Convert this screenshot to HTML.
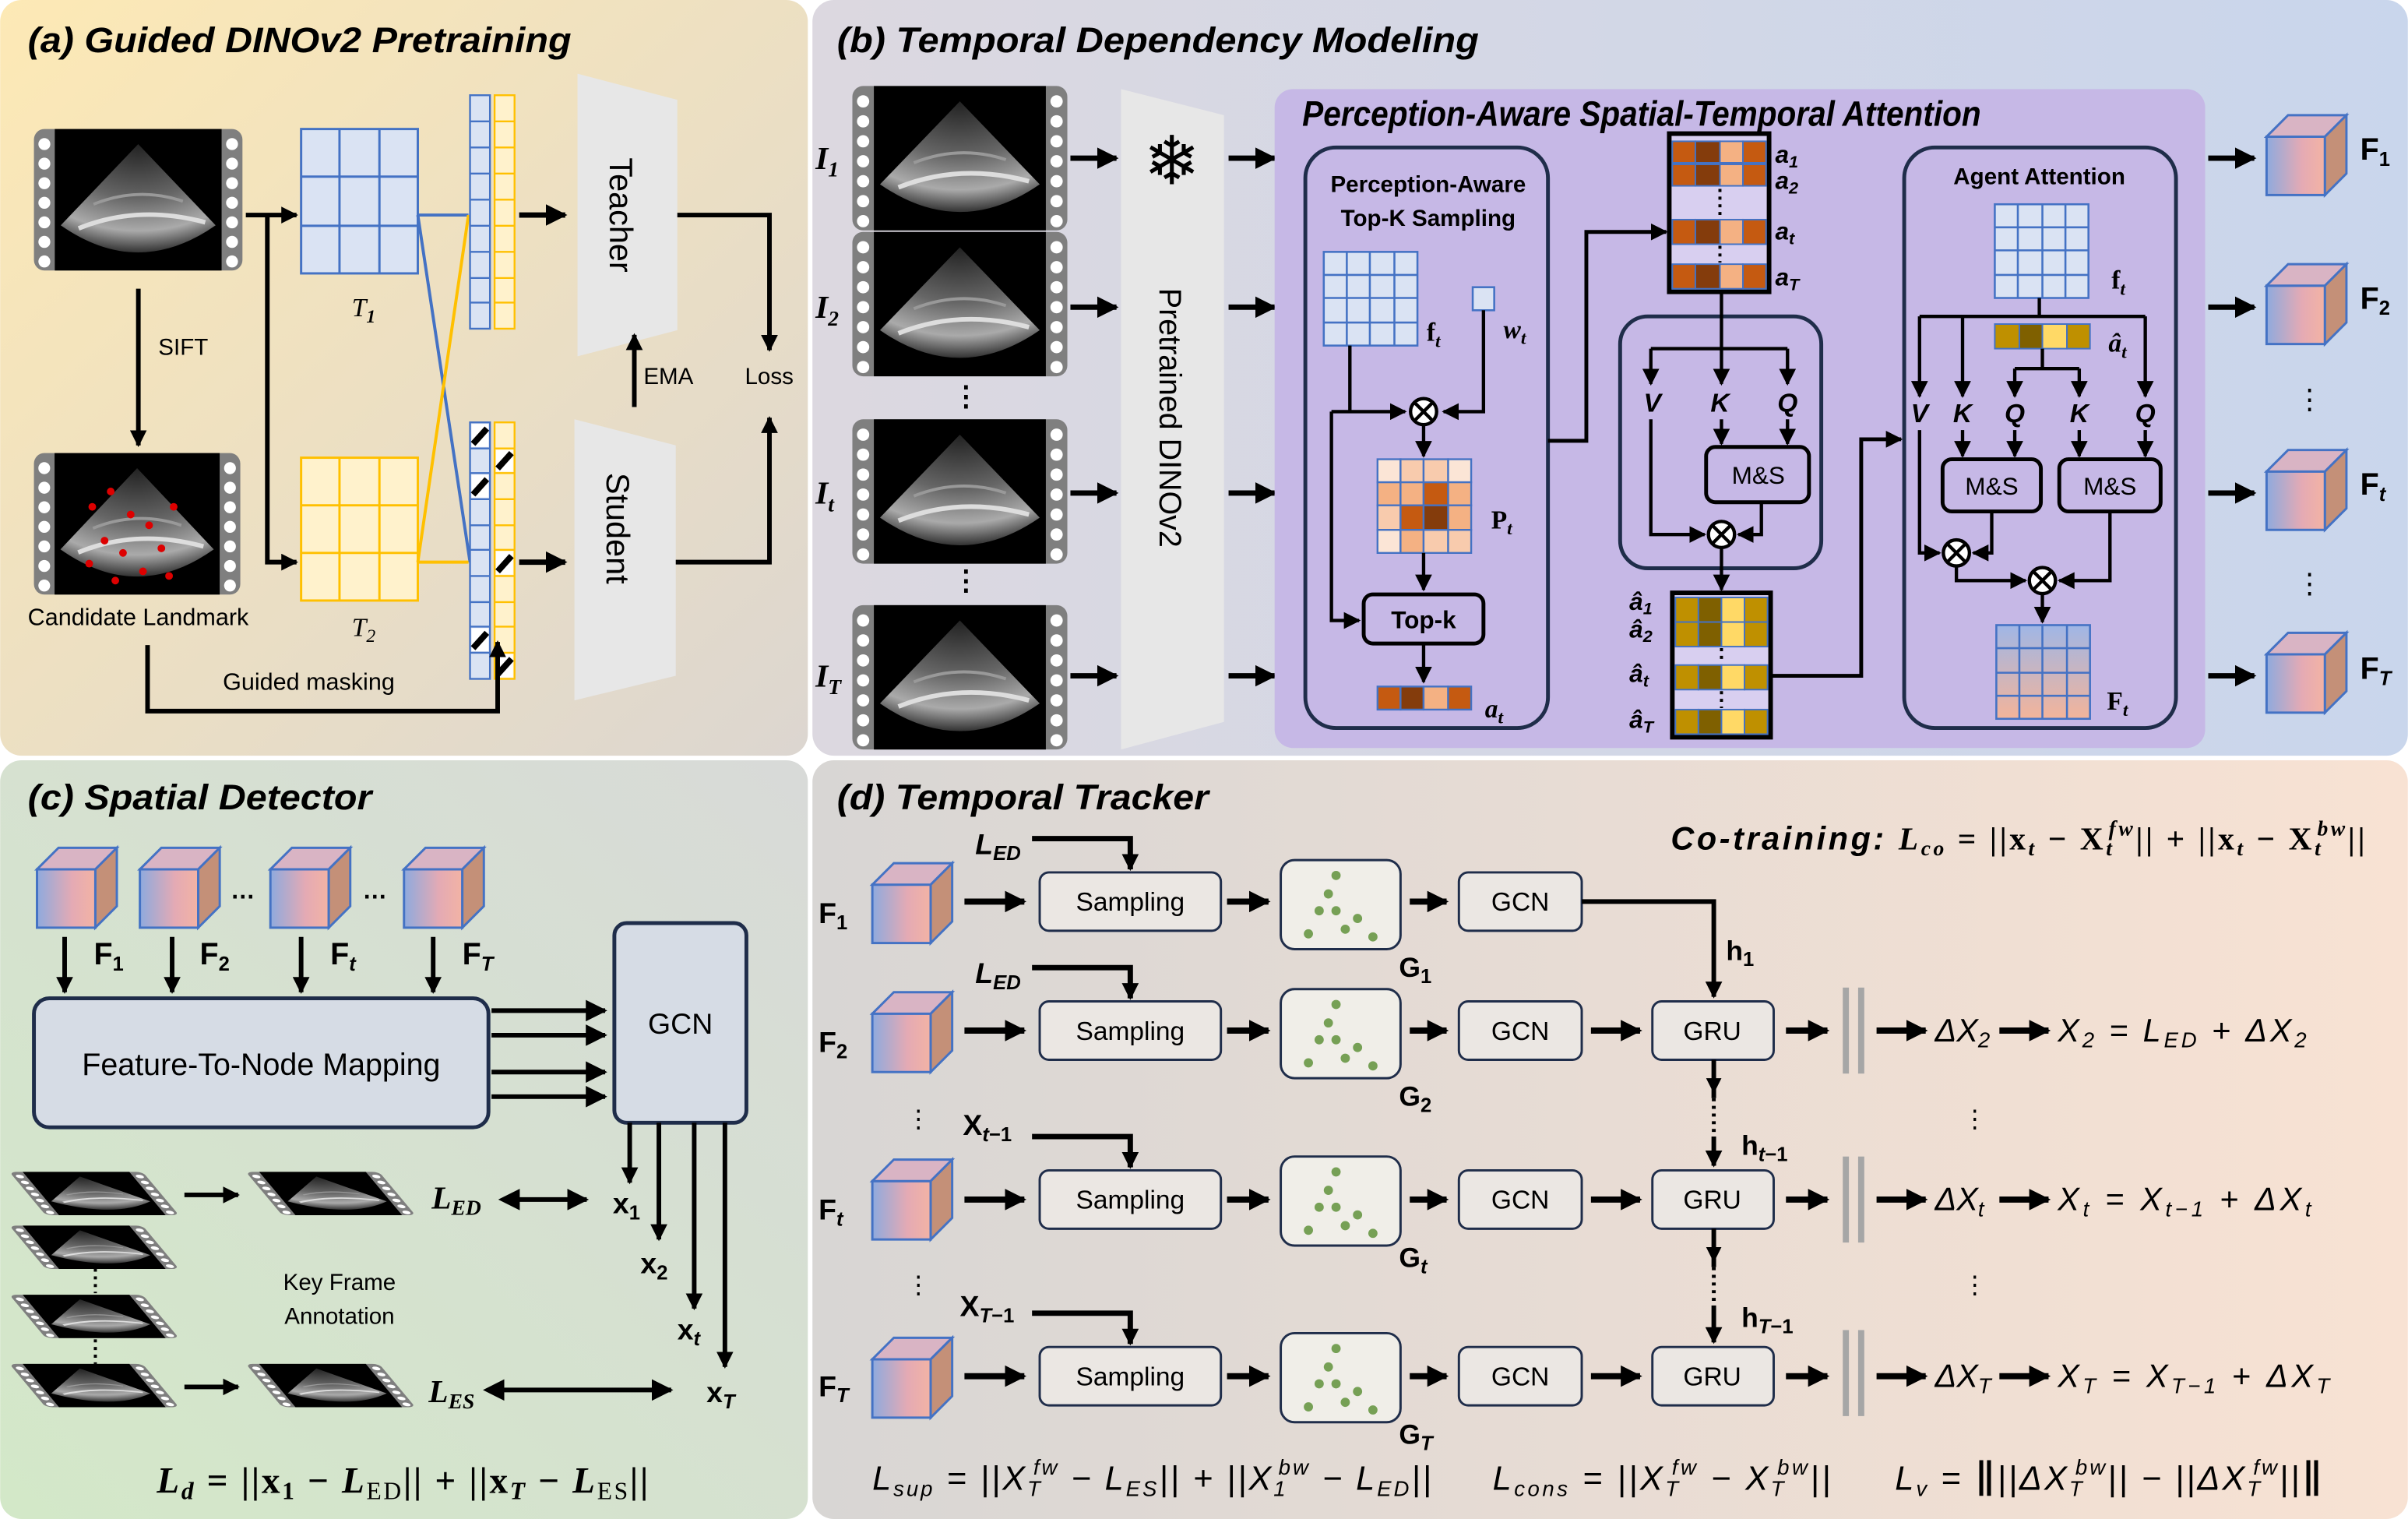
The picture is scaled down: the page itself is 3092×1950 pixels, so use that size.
<!DOCTYPE html>
<html><head><meta charset="utf-8"><style>
html,body{margin:0;padding:0;background:#fff}
svg{display:block}
text{font-family:"Liberation Sans",sans-serif;fill:#000}
.t{font-weight:bold;font-style:italic;font-size:23px}
.m{font-family:"Liberation Serif",serif;font-style:italic}
.b{font-family:"Liberation Serif",serif;font-weight:bold}
</style></head><body>
<svg width="3092" height="1950" viewBox="0 0 1568 989" xmlns="http://www.w3.org/2000/svg">
<defs>
<linearGradient id="ga" x1="0" y1="0" x2="1" y2="1"><stop offset="0" stop-color="#fde9b5"/><stop offset="1" stop-color="#dcd6d0"/></linearGradient>
<linearGradient id="gb" x1="0" y1="0" x2="1" y2="0"><stop offset="0" stop-color="#dcd8e0"/><stop offset="1" stop-color="#c9d6ec"/></linearGradient>
<linearGradient id="gc" x1="0" y1="1" x2="1" y2="0"><stop offset="0" stop-color="#d3e8c8"/><stop offset="1" stop-color="#d8dad8"/></linearGradient>
<linearGradient id="gd" x1="0" y1="0" x2="1" y2="0"><stop offset="0" stop-color="#d8d6d4"/><stop offset="1" stop-color="#f8e2d3"/></linearGradient>
<linearGradient id="cf" x1="0" y1="0" x2="1" y2="0"><stop offset="0" stop-color="#8eaade"/><stop offset="0.6" stop-color="#e4aab4"/><stop offset="1" stop-color="#f3b3a4"/></linearGradient>
<linearGradient id="fg" x1="0" y1="0" x2="0" y2="1"><stop offset="0" stop-color="#9fb6e6"/><stop offset="1" stop-color="#f3b49a"/></linearGradient>
<radialGradient id="fan" cx="0.5" cy="0" r="1"><stop offset="0" stop-color="#222"/><stop offset="0.5" stop-color="#666"/><stop offset="0.8" stop-color="#aaa"/><stop offset="1" stop-color="#333"/></radialGradient>
<marker id="ah" viewBox="0 0 10 10" refX="9" refY="5" markerWidth="11" markerHeight="11" markerUnits="userSpaceOnUse" orient="auto"><path d="M0,0L10,5L0,10z"/></marker>
<marker id="ahb" viewBox="0 0 10 10" refX="9" refY="5" markerWidth="14" markerHeight="14" markerUnits="userSpaceOnUse" orient="auto"><path d="M0,0L10,5L0,10z"/></marker>
<marker id="ahs" viewBox="0 0 10 10" refX="1" refY="5" markerWidth="14" markerHeight="14" markerUnits="userSpaceOnUse" orient="auto-start-reverse"><path d="M0,0L10,5L0,10z"/></marker>
<g id="film">
<rect x="0" y="0" width="140" height="94" rx="7" fill="#7f7f7f"/>
<rect x="14" y="0" width="112" height="94" fill="#000"/>
<path d="M70,10 L122,64 Q70,100 18,64 Z" fill="url(#fan)"/>
<path d="M30,66 Q70,50 115,62" stroke="#ddd" stroke-width="3" fill="none"/>
<path d="M40,50 Q70,38 100,48" stroke="#999" stroke-width="2" fill="none"/>
<g fill="#fff"><circle cx="7" cy="10" r="4"/><circle cx="7" cy="23" r="4"/><circle cx="7" cy="36" r="4"/><circle cx="7" cy="49" r="4"/><circle cx="7" cy="62" r="4"/><circle cx="7" cy="75" r="4"/><circle cx="7" cy="88" r="4"/>
<circle cx="133" cy="10" r="4"/><circle cx="133" cy="23" r="4"/><circle cx="133" cy="36" r="4"/><circle cx="133" cy="49" r="4"/><circle cx="133" cy="62" r="4"/><circle cx="133" cy="75" r="4"/><circle cx="133" cy="88" r="4"/></g>
</g>
<g id="cube" stroke="#4472c4" stroke-width="1.5">
<rect x="0" y="14" width="38" height="38" fill="url(#cf)"/>
<polygon points="0,14 14,0 52,0 38,14" fill="#d9b4c4"/>
<polygon points="38,14 52,0 52,38 38,52" fill="#c49078"/>
</g>
<g id="otimes"><circle r="8.5" fill="#fff" stroke="#000" stroke-width="2.2"/><path d="M-6,-6L6,6M6,-6L-6,6" stroke="#000" stroke-width="2.2"/></g>
<g id="graph"><rect x="0" y="0" width="78" height="58" rx="9" fill="#f0eee8" stroke="#1f2d4a" stroke-width="1.5"/>
<g fill="#76a055"><circle cx="36" cy="10" r="3"/><circle cx="31" cy="22" r="3"/><circle cx="25" cy="33" r="3"/><circle cx="36" cy="33" r="3"/><circle cx="50" cy="38" r="3"/><circle cx="18" cy="48" r="3"/><circle cx="42" cy="45" r="3"/><circle cx="60" cy="50" r="3"/></g></g>
</defs>

<!-- Panels -->
<rect x="0" y="0" width="1568" height="989" fill="#fff"/>
<rect x="0" y="0" width="526" height="492" rx="14" fill="url(#ga)"/>
<rect x="529" y="0" width="1039" height="492" rx="14" fill="url(#gb)"/>
<rect x="0" y="495" width="526" height="494" rx="14" fill="url(#gc)"/>
<rect x="529" y="495" width="1039" height="494" rx="14" fill="url(#gd)"/>

<!-- ===== (a) ===== -->
<text x="18" y="34" class="t" textLength="354" lengthAdjust="spacingAndGlyphs">(a) Guided DINOv2 Pretraining</text>
<use href="#film" transform="translate(22,84) scale(0.97,0.98)"/>
<use href="#film" transform="translate(22,295) scale(0.96,0.98)"/>
<g fill="#d00"><circle cx="60" cy="330" r="2.5"/><circle cx="72" cy="320" r="2.5"/><circle cx="85" cy="335" r="2.5"/><circle cx="97" cy="342" r="2.5"/><circle cx="68" cy="352" r="2.5"/><circle cx="80" cy="360" r="2.5"/><circle cx="105" cy="357" r="2.5"/><circle cx="113" cy="330" r="2.5"/><circle cx="58" cy="367" r="2.5"/><circle cx="93" cy="372" r="2.5"/><circle cx="110" cy="375" r="2.5"/><circle cx="75" cy="378" r="2.5"/></g>
<text x="18" y="407" font-size="15.5">Candidate Landmark</text>
<path d="M90,188V290" stroke="#000" stroke-width="3" marker-end="url(#ah)"/>
<text x="103" y="231" font-size="15">SIFT</text>
<path d="M160,140H193" stroke="#000" stroke-width="3" marker-end="url(#ah)"/>
<path d="M174,140V366H193" stroke="#000" stroke-width="3" fill="none" marker-end="url(#ah)"/>
<!-- T1 -->
<rect x="196" y="84" width="76" height="94" fill="#dae3f3" stroke="#4472c4" stroke-width="1.5"/>
<path d="M221,84V178M247,84V178M196,115H272M196,147H272" stroke="#4472c4" stroke-width="1.5"/>
<text x="229" y="206" class="m" font-size="17" font-style="normal">T<tspan font-size="12" dy="4" font-weight="bold">1</tspan></text>
<rect x="196" y="298" width="76" height="93" fill="#fff2cc" stroke="#ffc000" stroke-width="1.5"/>
<path d="M221,298V391M247,298V391M196,329H272M196,360H272" stroke="#ffc000" stroke-width="1.5"/>
<text x="229" y="414" class="m" font-size="17" font-style="normal">T<tspan font-size="12" dy="4">2</tspan></text>
<!-- crossing lines -->
<path d="M272,140H305M272,140L306,366" stroke="#4472c4" stroke-width="2" fill="none"/>
<path d="M272,366H305M272,366L305,140" stroke="#ffc000" stroke-width="2" fill="none"/>
<!-- token columns -->
<rect x="306" y="62" width="13" height="152" fill="#dae3f3" stroke="#4472c4" stroke-width="1.2"/>
<path d="M306,79H319M306,96H319M306,113H319M306,130H319M306,147H319M306,164H319M306,181H319M306,197H319" stroke="#4472c4" stroke-width="1.2"/>
<rect x="322" y="62" width="13" height="152" fill="#fff2cc" stroke="#ffc000" stroke-width="1.2"/>
<path d="M322,79H335M322,96H335M322,113H335M322,130H335M322,147H335M322,164H335M322,181H335M322,197H335" stroke="#ffc000" stroke-width="1.2"/>
<rect x="306" y="275" width="13" height="167" fill="#dae3f3" stroke="#4472c4" stroke-width="1.2"/>
<path d="M306,292H319M306,308H319M306,325H319M306,342H319M306,358H319M306,375H319M306,392H319M306,408H319M306,425H319" stroke="#4472c4" stroke-width="1.2"/>
<rect x="322" y="275" width="13" height="167" fill="#fff2cc" stroke="#ffc000" stroke-width="1.2"/>
<path d="M322,292H335M322,308H335M322,325H335M322,342H335M322,358H335M322,375H335M322,392H335M322,408H335M322,425H335" stroke="#ffc000" stroke-width="1.2"/>
<g>
<rect x="307" y="276" width="11" height="15" fill="#fff"/><path d="M308,289L317,279" stroke="#000" stroke-width="4"/>
<rect x="307" y="309" width="11" height="15" fill="#fff"/><path d="M308,322L317,312" stroke="#000" stroke-width="4"/>
<rect x="307" y="409" width="11" height="15" fill="#fff"/><path d="M308,422L317,412" stroke="#000" stroke-width="4"/>
<rect x="323" y="293" width="11" height="14" fill="#fff"/><path d="M324,305L333,295" stroke="#000" stroke-width="4"/>
<rect x="323" y="359" width="11" height="15" fill="#fff"/><path d="M324,372L333,362" stroke="#000" stroke-width="4"/>
<rect x="323" y="426" width="11" height="15" fill="#fff"/><path d="M324,439L333,429" stroke="#000" stroke-width="4"/>
</g>
<path d="M338,140H368" stroke="#000" stroke-width="3.5" marker-end="url(#ahb)"/>
<path d="M338,366H368" stroke="#000" stroke-width="3.5" marker-end="url(#ahb)"/>
<polygon points="376,48 441,65 441,215 376,232" fill="#e7e7e7"/>
<polygon points="374,273 440,290 440,440 374,456" fill="#e7e7e7"/>
<text transform="translate(397,140) rotate(90)" text-anchor="middle" font-size="21">Teacher</text>
<text transform="translate(395,344) rotate(90)" text-anchor="middle" font-size="21">Student</text>
<path d="M413,265V218" stroke="#000" stroke-width="3" marker-end="url(#ah)"/>
<text x="419" y="250" font-size="15">EMA</text>
<path d="M441,140H501V228" stroke="#000" stroke-width="3" fill="none" marker-end="url(#ah)"/>
<text x="485" y="250" font-size="15">Loss</text>
<path d="M440,366H501V272" stroke="#000" stroke-width="3" fill="none" marker-end="url(#ah)"/>
<path d="M96,420V463H324V418" stroke="#000" stroke-width="3" fill="none" marker-end="url(#ah)"/>
<text x="145" y="449" font-size="15.5">Guided masking</text>

<!-- ===== (b) ===== -->
<text x="545" y="34" class="t" textLength="418" lengthAdjust="spacingAndGlyphs">(b) Temporal Dependency Modeling</text>
<use href="#film" transform="translate(555,56)"/>
<use href="#film" transform="translate(555,151)"/>
<use href="#film" transform="translate(555,273)"/>
<use href="#film" transform="translate(555,394)"/>
<text x="531" y="110" class="m" font-size="21" font-weight="bold">I<tspan font-size="14" dy="5">1</tspan></text>
<text x="531" y="207" class="m" font-size="21" font-weight="bold">I<tspan font-size="14" dy="5">2</tspan></text>
<text x="531" y="328" class="m" font-size="21" font-weight="bold">I<tspan font-size="14" dy="5">t</tspan></text>
<text x="531" y="447" class="m" font-size="21" font-weight="bold">I<tspan font-size="14" dy="5">T</tspan></text>
<text x="620" y="264" font-size="18" font-weight="bold">⋮</text>
<text x="620" y="384" font-size="18" font-weight="bold">⋮</text>
<g stroke="#000" stroke-width="3.5"><path d="M697,103H727" marker-end="url(#ahb)"/><path d="M697,200H727" marker-end="url(#ahb)"/><path d="M697,321H727" marker-end="url(#ahb)"/><path d="M697,440H727" marker-end="url(#ahb)"/>
<path d="M800,103H830" marker-end="url(#ahb)"/><path d="M800,200H830" marker-end="url(#ahb)"/><path d="M800,321H830" marker-end="url(#ahb)"/><path d="M800,440H830" marker-end="url(#ahb)"/></g>
<polygon points="730,58 797,75 797,470 730,488" fill="#e7e7e7"/>
<text x="763" y="120" text-anchor="middle" font-size="44">❄</text>
<text transform="translate(755,272) rotate(90)" text-anchor="middle" font-size="20">Pretrained  DINOv2</text>
<!-- PAST -->
<rect x="830" y="58" width="606" height="429" rx="12" fill="#c6b8e6"/>
<text x="848" y="82" class="t" font-size="19" textLength="442" lengthAdjust="spacingAndGlyphs">Perception-Aware Spatial-Temporal Attention</text>
<rect x="850" y="96" width="158" height="378" rx="20" fill="none" stroke="#1f2d4a" stroke-width="2.5"/>
<text x="930" y="125" text-anchor="middle" font-size="15" font-weight="bold">Perception-Aware</text>
<text x="930" y="147" text-anchor="middle" font-size="15" font-weight="bold">Top-K Sampling</text>
<rect x="862" y="164" width="61" height="61" fill="#dae3f3" stroke="#4472c4" stroke-width="1.3"/>
<path d="M877,164V225M892,164V225M908,164V225M862,179H923M862,194H923M862,210H923" stroke="#4472c4" stroke-width="1.3"/>
<text x="929" y="222" class="b" font-size="17">f<tspan font-size="12" dy="4" font-style="italic">t</tspan></text>
<rect x="959" y="187" width="14" height="15" fill="#dae3f3" stroke="#4472c4" stroke-width="1.3"/>
<text x="979" y="220" class="m" font-size="17" font-weight="bold">w<tspan font-size="12" dy="4">t</tspan></text>
<path d="M879,225V268" stroke="#000" stroke-width="2.2" fill="none"/>
<path d="M867,268H915" stroke="#000" stroke-width="2.2" marker-end="url(#ah)"/>
<path d="M966,202V268H940" stroke="#000" stroke-width="2.2" fill="none" marker-end="url(#ah)"/>
<path d="M867,268V404H885" stroke="#000" stroke-width="2.2" fill="none" marker-end="url(#ah)"/>
<use href="#otimes" x="927" y="268"/>
<path d="M927,277V297" stroke="#000" stroke-width="2.2" marker-end="url(#ah)"/>
<g stroke="#4472c4" stroke-width="1.2">
<rect x="897" y="299" width="15" height="15" fill="#fbe5d6"/><rect x="912" y="299" width="15" height="15" fill="#f8cbad"/><rect x="927" y="299" width="16" height="15" fill="#f8cbad"/><rect x="943" y="299" width="15" height="15" fill="#fbe5d6"/>
<rect x="897" y="314" width="15" height="15" fill="#f4b183"/><rect x="912" y="314" width="15" height="15" fill="#f4b183"/><rect x="927" y="314" width="16" height="15" fill="#c55a11"/><rect x="943" y="314" width="15" height="15" fill="#f4b183"/>
<rect x="897" y="329" width="15" height="16" fill="#f8cbad"/><rect x="912" y="329" width="15" height="16" fill="#c55a11"/><rect x="927" y="329" width="16" height="16" fill="#843c0c"/><rect x="943" y="329" width="15" height="16" fill="#f4b183"/>
<rect x="897" y="345" width="15" height="15" fill="#fbe5d6"/><rect x="912" y="345" width="15" height="15" fill="#f4b183"/><rect x="927" y="345" width="16" height="15" fill="#f8cbad"/><rect x="943" y="345" width="15" height="15" fill="#f8cbad"/></g>
<text x="971" y="344" class="b" font-size="17">P<tspan font-size="12" dy="4" font-style="italic">t</tspan></text>
<path d="M927,360V384" stroke="#000" stroke-width="2.2" marker-end="url(#ah)"/>
<rect x="888" y="387" width="78" height="32" rx="6" fill="none" stroke="#000" stroke-width="2.5"/>
<text x="927" y="409" text-anchor="middle" font-size="16" font-weight="bold">Top-k</text>
<path d="M927,419V444" stroke="#000" stroke-width="2.2" marker-end="url(#ah)"/>
<g stroke="#4472c4" stroke-width="1.2"><rect x="897" y="447" width="15" height="15" fill="#c55a11"/><rect x="912" y="447" width="15" height="15" fill="#843c0c"/><rect x="927" y="447" width="16" height="15" fill="#f4b183"/><rect x="943" y="447" width="15" height="15" fill="#c55a11"/></g>
<text x="967" y="467" class="m" font-size="17" font-weight="bold">a<tspan font-size="12" dy="4">t</tspan></text>
<path d="M1008,287H1033V151H1085" stroke="#000" stroke-width="2.5" fill="none" marker-end="url(#ah)"/>
<!-- a matrix -->
<rect x="1087" y="87" width="65" height="103" fill="#d8cff0" stroke="#000" stroke-width="3"/>
<g stroke="#4472c4" stroke-width="1">
<rect x="1089" y="92" width="15" height="14" fill="#c55a11"/><rect x="1104" y="92" width="16" height="14" fill="#843c0c"/><rect x="1120" y="92" width="15" height="14" fill="#f4b183"/><rect x="1135" y="92" width="15" height="14" fill="#c55a11"/>
<rect x="1089" y="107" width="15" height="14" fill="#c55a11"/><rect x="1104" y="107" width="16" height="14" fill="#843c0c"/><rect x="1120" y="107" width="15" height="14" fill="#f4b183"/><rect x="1135" y="107" width="15" height="14" fill="#c55a11"/>
<rect x="1089" y="143" width="15" height="16" fill="#c55a11"/><rect x="1104" y="143" width="16" height="16" fill="#843c0c"/><rect x="1120" y="143" width="15" height="16" fill="#f4b183"/><rect x="1135" y="143" width="15" height="16" fill="#c55a11"/>
<rect x="1089" y="172" width="15" height="16" fill="#c55a11"/><rect x="1104" y="172" width="16" height="16" fill="#843c0c"/><rect x="1120" y="172" width="15" height="16" fill="#f4b183"/><rect x="1135" y="172" width="15" height="16" fill="#c55a11"/></g>
<path d="M1120,123V141M1120,160V171" stroke="#000" stroke-width="2" stroke-dasharray="2,3"/>
<g class="m" font-size="16" font-weight="bold"><text x="1156" y="106">a<tspan font-size="11" dy="3">1</tspan></text><text x="1156" y="123">a<tspan font-size="11" dy="3">2</tspan></text><text x="1156" y="156">a<tspan font-size="11" dy="3">t</tspan></text><text x="1156" y="186">a<tspan font-size="11" dy="3">T</tspan></text></g>
<!-- middle box -->
<rect x="1055" y="206" width="131" height="164" rx="18" fill="none" stroke="#1f2d4a" stroke-width="2.5"/>
<path d="M1121,190V250" stroke="#000" stroke-width="2.2" marker-end="url(#ah)"/>
<path d="M1075,227H1164" stroke="#000" stroke-width="2.2"/>
<path d="M1075,227V250" stroke="#000" stroke-width="2.2" marker-end="url(#ah)"/>
<path d="M1164,227V250" stroke="#000" stroke-width="2.2" marker-end="url(#ah)"/>
<g class="m" font-size="17" font-weight="bold" text-anchor="middle"><text x="1076" y="268">V</text><text x="1120" y="268">K</text><text x="1164" y="268">Q</text></g>
<path d="M1121,273V289" stroke="#000" stroke-width="2.2" marker-end="url(#ah)"/>
<path d="M1164,273V289" stroke="#000" stroke-width="2.2" marker-end="url(#ah)"/>
<rect x="1111" y="291" width="67" height="36" rx="6" fill="none" stroke="#000" stroke-width="2.5"/>
<text x="1145" y="315" text-anchor="middle" font-size="16">M&amp;S</text>
<path d="M1075,273V348H1110" stroke="#000" stroke-width="2.2" fill="none" marker-end="url(#ah)"/>
<path d="M1147,327V348H1132" stroke="#000" stroke-width="2.2" fill="none" marker-end="url(#ah)"/>
<use href="#otimes" x="1121" y="348"/>
<path d="M1121,357V384" stroke="#000" stroke-width="2.2" marker-end="url(#ah)"/>
<!-- a-hat matrix -->
<rect x="1089" y="386" width="64" height="94" fill="#d8cff0" stroke="#000" stroke-width="3"/>
<g stroke="#4472c4" stroke-width="1">
<rect x="1091" y="389" width="15" height="16" fill="#bf9000"/><rect x="1106" y="389" width="15" height="16" fill="#7f6000"/><rect x="1121" y="389" width="15" height="16" fill="#ffd966"/><rect x="1136" y="389" width="15" height="16" fill="#bf9000"/>
<rect x="1091" y="405" width="15" height="16" fill="#bf9000"/><rect x="1106" y="405" width="15" height="16" fill="#7f6000"/><rect x="1121" y="405" width="15" height="16" fill="#ffd966"/><rect x="1136" y="405" width="15" height="16" fill="#bf9000"/>
<rect x="1091" y="433" width="15" height="16" fill="#bf9000"/><rect x="1106" y="433" width="15" height="16" fill="#7f6000"/><rect x="1121" y="433" width="15" height="16" fill="#ffd966"/><rect x="1136" y="433" width="15" height="16" fill="#bf9000"/>
<rect x="1091" y="462" width="15" height="16" fill="#bf9000"/><rect x="1106" y="462" width="15" height="16" fill="#7f6000"/><rect x="1121" y="462" width="15" height="16" fill="#ffd966"/><rect x="1136" y="462" width="15" height="16" fill="#bf9000"/></g>
<path d="M1121,422V432M1121,450V461" stroke="#000" stroke-width="2" stroke-dasharray="2,3"/>
<g class="m" font-size="16" font-weight="bold"><text x="1061" y="397">â<tspan font-size="11" dy="3">1</tspan></text><text x="1061" y="415">â<tspan font-size="11" dy="3">2</tspan></text><text x="1061" y="444">â<tspan font-size="11" dy="3">t</tspan></text><text x="1061" y="474">â<tspan font-size="11" dy="3">T</tspan></text></g>
<path d="M1153,440H1212V286H1238" stroke="#000" stroke-width="2.5" fill="none" marker-end="url(#ah)"/>
<!-- Agent attention -->
<rect x="1240" y="96" width="177" height="378" rx="20" fill="none" stroke="#1f2d4a" stroke-width="2.5"/>
<text x="1328" y="120" text-anchor="middle" font-size="15" font-weight="bold">Agent Attention</text>
<rect x="1299" y="133" width="61" height="61" fill="#dae3f3" stroke="#4472c4" stroke-width="1.3"/>
<path d="M1314,133V194M1330,133V194M1345,133V194M1299,148H1360M1299,163H1360M1299,179H1360" stroke="#4472c4" stroke-width="1.3"/>
<text x="1375" y="188" class="b" font-size="17">f<tspan font-size="12" dy="4" font-style="italic">t</tspan></text>
<path d="M1328,194V206M1250,206H1397" stroke="#000" stroke-width="2.2" fill="none"/>
<path d="M1250,206V258" stroke="#000" stroke-width="2.2" marker-end="url(#ah)"/>
<path d="M1278,206V258" stroke="#000" stroke-width="2.2" marker-end="url(#ah)"/>
<path d="M1397,206V258" stroke="#000" stroke-width="2.2" marker-end="url(#ah)"/>
<g stroke="#4472c4" stroke-width="1"><rect x="1299" y="211" width="16" height="16" fill="#bf9000"/><rect x="1315" y="211" width="15" height="16" fill="#7f6000"/><rect x="1330" y="211" width="16" height="16" fill="#ffd966"/><rect x="1346" y="211" width="15" height="16" fill="#bf9000"/></g>
<text x="1373" y="229" class="m" font-size="17" font-weight="bold">â<tspan font-size="12" dy="4">t</tspan></text>
<path d="M1330,227V240M1312,240H1354" stroke="#000" stroke-width="2.2" fill="none"/>
<path d="M1312,240V258" stroke="#000" stroke-width="2.2" marker-end="url(#ah)"/>
<path d="M1354,240V258" stroke="#000" stroke-width="2.2" marker-end="url(#ah)"/>
<g class="m" font-size="17" font-weight="bold" text-anchor="middle"><text x="1250" y="275">V</text><text x="1278" y="275">K</text><text x="1312" y="275">Q</text><text x="1354" y="275">K</text><text x="1397" y="275">Q</text></g>
<path d="M1278,280V297" stroke="#000" stroke-width="2.2" marker-end="url(#ah)"/>
<path d="M1312,280V297" stroke="#000" stroke-width="2.2" marker-end="url(#ah)"/>
<path d="M1354,280V297" stroke="#000" stroke-width="2.2" marker-end="url(#ah)"/>
<path d="M1397,280V297" stroke="#000" stroke-width="2.2" marker-end="url(#ah)"/>
<rect x="1265" y="299" width="64" height="34" rx="6" fill="none" stroke="#000" stroke-width="2.5"/>
<rect x="1341" y="299" width="66" height="34" rx="6" fill="none" stroke="#000" stroke-width="2.5"/>
<text x="1297" y="322" text-anchor="middle" font-size="16">M&amp;S</text>
<text x="1374" y="322" text-anchor="middle" font-size="16">M&amp;S</text>
<path d="M1250,280V360H1263" stroke="#000" stroke-width="2.2" fill="none" marker-end="url(#ah)"/>
<path d="M1297,333V360H1285" stroke="#000" stroke-width="2.2" fill="none" marker-end="url(#ah)"/>
<use href="#otimes" x="1274" y="360"/>
<path d="M1274,369V378H1319" stroke="#000" stroke-width="2.2" fill="none" marker-end="url(#ah)"/>
<path d="M1374,333V378H1341" stroke="#000" stroke-width="2.2" fill="none" marker-end="url(#ah)"/>
<use href="#otimes" x="1330" y="378"/>
<path d="M1330,387V405" stroke="#000" stroke-width="2.2" marker-end="url(#ah)"/>
<rect x="1300" y="407" width="61" height="61" fill="url(#fg)" stroke="#4472c4" stroke-width="1.3"/>
<path d="M1315,407V468M1330,407V468M1346,407V468M1300,422H1361M1300,438H1361M1300,453H1361" stroke="#4472c4" stroke-width="1.3"/>
<text x="1372" y="462" class="b" font-size="17">F<tspan font-size="12" dy="4" font-style="italic">t</tspan></text>
<!-- outputs -->
<g stroke="#000" stroke-width="3.5"><path d="M1438,103H1468" marker-end="url(#ahb)"/><path d="M1438,200H1468" marker-end="url(#ahb)"/><path d="M1438,321H1468" marker-end="url(#ahb)"/><path d="M1438,440H1468" marker-end="url(#ahb)"/></g>
<use href="#cube" x="1476" y="75"/><use href="#cube" x="1476" y="172"/><use href="#cube" x="1476" y="293"/><use href="#cube" x="1476" y="412"/>
<g class="b" font-size="20"><text x="1537" y="104">F<tspan font-size="13" dy="4">1</tspan></text><text x="1537" y="201">F<tspan font-size="13" dy="4">2</tspan></text><text x="1537" y="322">F<tspan font-size="13" dy="4" font-style="italic">t</tspan></text><text x="1537" y="442">F<tspan font-size="13" dy="4" font-style="italic">T</tspan></text></g>
<text x="1495" y="266" font-size="18">⋮</text><text x="1495" y="386" font-size="18">⋮</text>

<!-- ===== (c) ===== -->
<text x="18" y="527" class="t" textLength="224" lengthAdjust="spacingAndGlyphs">(c) Spatial Detector</text>
<use href="#cube" x="24" y="552"/><use href="#cube" x="91" y="552"/><use href="#cube" x="176" y="552"/><use href="#cube" x="263" y="552"/>
<text x="150" y="585" font-size="16" font-weight="bold">…</text><text x="236" y="585" font-size="16" font-weight="bold">…</text>
<g stroke="#000" stroke-width="3"><path d="M42,610V646" marker-end="url(#ah)"/><path d="M112,610V646" marker-end="url(#ah)"/><path d="M196,610V646" marker-end="url(#ah)"/><path d="M282,610V646" marker-end="url(#ah)"/></g>
<g class="b" font-size="20"><text x="61" y="628">F<tspan font-size="13" dy="4">1</tspan></text><text x="130" y="628">F<tspan font-size="13" dy="4">2</tspan></text><text x="215" y="628">F<tspan font-size="13" dy="4" font-style="italic">t</tspan></text><text x="301" y="628">F<tspan font-size="13" dy="4" font-style="italic">T</tspan></text></g>
<rect x="22" y="650" width="296" height="84" rx="10" fill="#d6dce5" stroke="#1f2d4a" stroke-width="2.5"/>
<text x="170" y="700" text-anchor="middle" font-size="20">Feature-To-Node Mapping</text>
<g stroke="#000" stroke-width="3"><path d="M320,658H394" marker-end="url(#ahb)"/><path d="M320,674H394" marker-end="url(#ahb)"/><path d="M320,698H394" marker-end="url(#ahb)"/><path d="M320,714H394" marker-end="url(#ahb)"/></g>
<rect x="400" y="601" width="86" height="130" rx="8" fill="#d6dce5" stroke="#1f2d4a" stroke-width="2.5"/>
<text x="443" y="673" text-anchor="middle" font-size="19">GCN</text>
<g stroke="#000" stroke-width="3"><path d="M410,731V770" marker-end="url(#ah)"/><path d="M429,731V807" marker-end="url(#ah)"/><path d="M452,731V852" marker-end="url(#ah)"/><path d="M472,731V890" marker-end="url(#ah)"/></g>
<g class="b" font-size="19"><text x="399" y="790">x<tspan font-size="13" dy="4">1</tspan></text><text x="417" y="829">x<tspan font-size="13" dy="4">2</tspan></text><text x="441" y="872">x<tspan font-size="13" dy="4" font-style="italic">t</tspan></text><text x="460" y="913">x<tspan font-size="13" dy="4" font-style="italic">T</tspan></text></g>
<use href="#film" transform="translate(6,763) skewX(40) scale(0.62,0.3)"/>
<use href="#film" transform="translate(6,798) skewX(40) scale(0.62,0.3)"/>
<use href="#film" transform="translate(6,843) skewX(40) scale(0.62,0.3)"/>
<use href="#film" transform="translate(6,888) skewX(40) scale(0.62,0.3)"/>
<use href="#film" transform="translate(160,763) skewX(40) scale(0.62,0.3)"/>
<use href="#film" transform="translate(160,888) skewX(40) scale(0.62,0.3)"/>
<path d="M62,826V842M62,872V888" stroke="#000" stroke-width="2" stroke-dasharray="2,3"/>
<path d="M120,778H155" stroke="#000" stroke-width="3" marker-end="url(#ah)"/>
<path d="M120,903H155" stroke="#000" stroke-width="3" marker-end="url(#ah)"/>
<text x="281" y="787" class="m" font-size="21" font-weight="bold">L<tspan font-size="14" dy="4">ED</tspan></text>
<text x="279" y="913" class="m" font-size="21" font-weight="bold">L<tspan font-size="14" dy="4">ES</tspan></text>
<path d="M337,781H382" stroke="#000" stroke-width="3" marker-start="url(#ahs)" marker-end="url(#ahb)"/>
<path d="M327,905H437" stroke="#000" stroke-width="3" marker-start="url(#ahs)" marker-end="url(#ahb)"/>
<text x="221" y="840" text-anchor="middle" font-size="15">Key Frame</text>
<text x="221" y="862" text-anchor="middle" font-size="15">Annotation</text>
<text x="102" y="972" class="b" font-size="24" textLength="320" lengthAdjust="spacing"><tspan font-style="italic">L<tspan font-size="16" dy="4">d</tspan></tspan><tspan dy="-4"> = ||x</tspan><tspan font-size="16" dy="4">1</tspan><tspan dy="-4"> − </tspan><tspan font-style="italic">L</tspan><tspan font-size="16" dy="4" font-weight="normal">ED</tspan><tspan dy="-4">||  + ||x</tspan><tspan font-size="16" dy="4" font-style="italic">T</tspan><tspan dy="-4"> − </tspan><tspan font-style="italic">L</tspan><tspan font-size="16" dy="4" font-weight="normal">ES</tspan><tspan dy="-4">||</tspan></text>

<!-- ===== (d) ===== -->
<text x="545" y="527" class="t" textLength="242" lengthAdjust="spacingAndGlyphs">(d) Temporal Tracker</text>
<text x="1088" y="553" class="m" font-size="21" font-weight="bold" textLength="452" lengthAdjust="spacing"><tspan font-family="Liberation Sans">Co-training: </tspan>L<tspan font-size="14" dy="4">co</tspan><tspan dy="-4" font-style="normal"> = ||x</tspan><tspan font-size="14" dy="4">t</tspan><tspan dy="-4" font-style="normal"> − X</tspan><tspan font-size="14" dy="4">t</tspan><tspan font-size="14" dy="-13" dx="-4">fw</tspan><tspan dy="9" font-style="normal">|| + ||x</tspan><tspan font-size="14" dy="4">t</tspan><tspan dy="-4" font-style="normal"> − X</tspan><tspan font-size="14" dy="4">t</tspan><tspan font-size="14" dy="-13" dx="-4">bw</tspan><tspan dy="9" font-style="normal">||</tspan></text>
<use href="#cube" x="568" y="562"/><use href="#cube" x="568" y="646"/><use href="#cube" x="568" y="755"/><use href="#cube" x="568" y="871"/>
<g class="b" font-size="19"><text x="533" y="601">F<tspan font-size="13" dy="4">1</tspan></text><text x="533" y="685">F<tspan font-size="13" dy="4">2</tspan></text><text x="533" y="794">F<tspan font-size="13" dy="4" font-style="italic">t</tspan></text><text x="533" y="909">F<tspan font-size="13" dy="4" font-style="italic">T</tspan></text></g>
<text x="590" y="734" font-size="16">⋮</text><text x="590" y="842" font-size="16">⋮</text>
<g stroke="#000" stroke-width="4">
<path d="M628,587H667" marker-end="url(#ahb)"/><path d="M628,671H667" marker-end="url(#ahb)"/><path d="M628,781H667" marker-end="url(#ahb)"/><path d="M628,896H667" marker-end="url(#ahb)"/>
<path d="M799,587H826" marker-end="url(#ahb)"/><path d="M799,671H826" marker-end="url(#ahb)"/><path d="M799,781H826" marker-end="url(#ahb)"/><path d="M799,896H826" marker-end="url(#ahb)"/>
<path d="M918,587H942" marker-end="url(#ahb)"/><path d="M918,671H942" marker-end="url(#ahb)"/><path d="M918,781H942" marker-end="url(#ahb)"/><path d="M918,896H942" marker-end="url(#ahb)"/>
<path d="M1036,671H1068" marker-end="url(#ahb)"/><path d="M1036,781H1068" marker-end="url(#ahb)"/><path d="M1036,896H1068" marker-end="url(#ahb)"/>
<path d="M1163,671H1190" marker-end="url(#ahb)"/><path d="M1163,781H1190" marker-end="url(#ahb)"/><path d="M1163,896H1190" marker-end="url(#ahb)"/>
<path d="M1222,671H1254" marker-end="url(#ahb)"/><path d="M1222,781H1254" marker-end="url(#ahb)"/><path d="M1222,896H1254" marker-end="url(#ahb)"/>
<path d="M1302,671H1334" marker-end="url(#ahb)"/><path d="M1302,781H1334" marker-end="url(#ahb)"/><path d="M1302,896H1334" marker-end="url(#ahb)"/>
</g>
<g stroke="#000" stroke-width="3.5" fill="none">
<path d="M672,546H736V566" marker-end="url(#ah)"/><path d="M672,630H736V650" marker-end="url(#ah)"/><path d="M672,740H736V760" marker-end="url(#ah)"/><path d="M672,855H736V875" marker-end="url(#ah)"/>
</g>
<g class="m" font-size="19" font-weight="bold">
<text x="635" y="556">L<tspan font-size="13" dy="4">ED</tspan></text><text x="635" y="640">L<tspan font-size="13" dy="4">ED</tspan></text>
<text x="627" y="739" font-style="normal">X<tspan font-size="13" dy="4" font-style="italic">t</tspan><tspan font-size="13" font-style="normal">−1</tspan></text>
<text x="625" y="857" font-style="normal">X<tspan font-size="13" dy="4" font-style="italic">T</tspan><tspan font-size="13" font-style="normal">−1</tspan></text>
</g>
<g fill="#ebe7e3" stroke="#1f2d4a" stroke-width="1.5">
<rect x="677" y="568" width="118" height="38" rx="6"/><rect x="677" y="652" width="118" height="38" rx="6"/><rect x="677" y="762" width="118" height="38" rx="6"/><rect x="677" y="877" width="118" height="38" rx="6"/>
<rect x="950" y="568" width="80" height="38" rx="6"/><rect x="950" y="652" width="80" height="38" rx="6"/><rect x="950" y="762" width="80" height="38" rx="6"/><rect x="950" y="877" width="80" height="38" rx="6"/>
<rect x="1076" y="652" width="79" height="38" rx="6"/><rect x="1076" y="762" width="79" height="38" rx="6"/><rect x="1076" y="877" width="79" height="38" rx="6"/>
</g>
<g font-size="17" text-anchor="middle">
<text x="736" y="593">Sampling</text><text x="736" y="677">Sampling</text><text x="736" y="787">Sampling</text><text x="736" y="902">Sampling</text>
<text x="990" y="593">GCN</text><text x="990" y="677">GCN</text><text x="990" y="787">GCN</text><text x="990" y="902">GCN</text>
<text x="1115" y="677">GRU</text><text x="1115" y="787">GRU</text><text x="1115" y="902">GRU</text>
</g>
<use href="#graph" x="834" y="560"/><use href="#graph" x="834" y="644"/><use href="#graph" x="834" y="753"/><use href="#graph" x="834" y="868"/>
<g class="b" font-size="18"><text x="911" y="636">G<tspan font-size="13" dy="4">1</tspan></text><text x="911" y="720">G<tspan font-size="13" dy="4">2</tspan></text><text x="911" y="825">G<tspan font-size="13" dy="4" font-style="italic">t</tspan></text><text x="911" y="940">G<tspan font-size="13" dy="4" font-style="italic">T</tspan></text></g>
<path d="M1030,587H1116V649" stroke="#000" stroke-width="3" fill="none" marker-end="url(#ah)"/>
<g stroke="#000" stroke-width="3"><path d="M1116,690V715"/><path d="M1116,740V759" marker-end="url(#ah)"/><path d="M1116,800V825"/><path d="M1116,850V874" marker-end="url(#ah)"/></g>
<g stroke="#000" stroke-width="2.5" stroke-dasharray="2,3"><path d="M1116,715V740M1116,825V850"/></g>
<path d="M1116,712l-5,-10h10z M1116,822l-5,-10h10z"/>
<g class="b" font-size="18"><text x="1124" y="625">h<tspan font-size="13" dy="4">1</tspan></text><text x="1134" y="752">h<tspan font-size="13" dy="4" font-style="italic">t</tspan><tspan font-size="13">−1</tspan></text><text x="1134" y="864">h<tspan font-size="13" dy="4" font-style="italic">T</tspan><tspan font-size="13">−1</tspan></text></g>
<g fill="#a6a6a6"><rect x="1200" y="643" width="4" height="56"/><rect x="1210" y="643" width="4" height="56"/><rect x="1200" y="753" width="4" height="56"/><rect x="1210" y="753" width="4" height="56"/><rect x="1200" y="866" width="4" height="56"/><rect x="1210" y="866" width="4" height="56"/></g>
<g class="m" font-size="21" font-style="normal">
<text x="1260" y="678">ΔX<tspan font-size="14" dy="4">2</tspan></text>
<text x="1340" y="678" textLength="162" lengthAdjust="spacing">X<tspan font-size="14" dy="4">2</tspan><tspan dy="-4"> = </tspan><tspan font-style="italic">L</tspan><tspan font-size="14" dy="4" font-style="italic">ED</tspan><tspan dy="-4"> + ΔX</tspan><tspan font-size="14" dy="4">2</tspan></text>
<text x="1260" y="788">ΔX<tspan font-size="14" dy="4" font-style="italic">t</tspan></text>
<text x="1340" y="788" textLength="165" lengthAdjust="spacing">X<tspan font-size="14" dy="4" font-style="italic">t</tspan><tspan dy="-4"> = X</tspan><tspan font-size="14" dy="4"><tspan font-style="italic">t</tspan>−1</tspan><tspan dy="-4"> + ΔX</tspan><tspan font-size="14" dy="4" font-style="italic">t</tspan></text>
<text x="1260" y="903">ΔX<tspan font-size="14" dy="4" font-style="italic">T</tspan></text>
<text x="1340" y="903" textLength="177" lengthAdjust="spacing">X<tspan font-size="14" dy="4" font-style="italic">T</tspan><tspan dy="-4"> = X</tspan><tspan font-size="14" dy="4"><tspan font-style="italic">T</tspan>−1</tspan><tspan dy="-4"> + ΔX</tspan><tspan font-size="14" dy="4" font-style="italic">T</tspan></text>
</g>
<text x="1278" y="734" font-size="16">⋮</text><text x="1278" y="842" font-size="16">⋮</text>
<g class="m" font-size="22" font-style="normal">
<text x="568" y="970" textLength="364" lengthAdjust="spacing"><tspan font-style="italic">L</tspan><tspan font-size="14" dy="4" font-style="italic">sup</tspan><tspan dy="-4"> = ||X</tspan><tspan font-size="14" dy="4" font-style="italic">T</tspan><tspan font-size="14" dy="-14" dx="-6" font-style="italic">fw</tspan><tspan dy="10"> − </tspan><tspan font-style="italic">L</tspan><tspan font-size="14" dy="4">ES</tspan><tspan dy="-4">|| + ||X</tspan><tspan font-size="14" dy="4">1</tspan><tspan font-size="14" dy="-14" dx="-6" font-style="italic">bw</tspan><tspan dy="10"> − </tspan><tspan font-style="italic">L</tspan><tspan font-size="14" dy="4">ED</tspan><tspan dy="-4">||</tspan></text>
<text x="972" y="970" textLength="220" lengthAdjust="spacing"><tspan font-style="italic">L</tspan><tspan font-size="14" dy="4" font-style="italic">cons</tspan><tspan dy="-4"> = ||X</tspan><tspan font-size="14" dy="4" font-style="italic">T</tspan><tspan font-size="14" dy="-14" dx="-6" font-style="italic">fw</tspan><tspan dy="10">  − X</tspan><tspan font-size="14" dy="4" font-style="italic">T</tspan><tspan font-size="14" dy="-14" dx="-6" font-style="italic">bw</tspan><tspan dy="10">||</tspan></text>
<text x="1234" y="970" textLength="278" lengthAdjust="spacing"><tspan font-style="italic">L</tspan><tspan font-size="14" dy="4" font-style="italic">v</tspan><tspan dy="-4"> = </tspan><tspan font-size="32" dy="4">‖</tspan><tspan dy="-4">||ΔX</tspan><tspan font-size="14" dy="4" font-style="italic">T</tspan><tspan font-size="14" dy="-14" dx="-6" font-style="italic">bw</tspan><tspan dy="10">||  − ||ΔX</tspan><tspan font-size="14" dy="4" font-style="italic">T</tspan><tspan font-size="14" dy="-14" dx="-6" font-style="italic">fw</tspan><tspan dy="10">||</tspan><tspan font-size="32" dy="4">‖</tspan></text>
</g>
</svg>
</body></html>
